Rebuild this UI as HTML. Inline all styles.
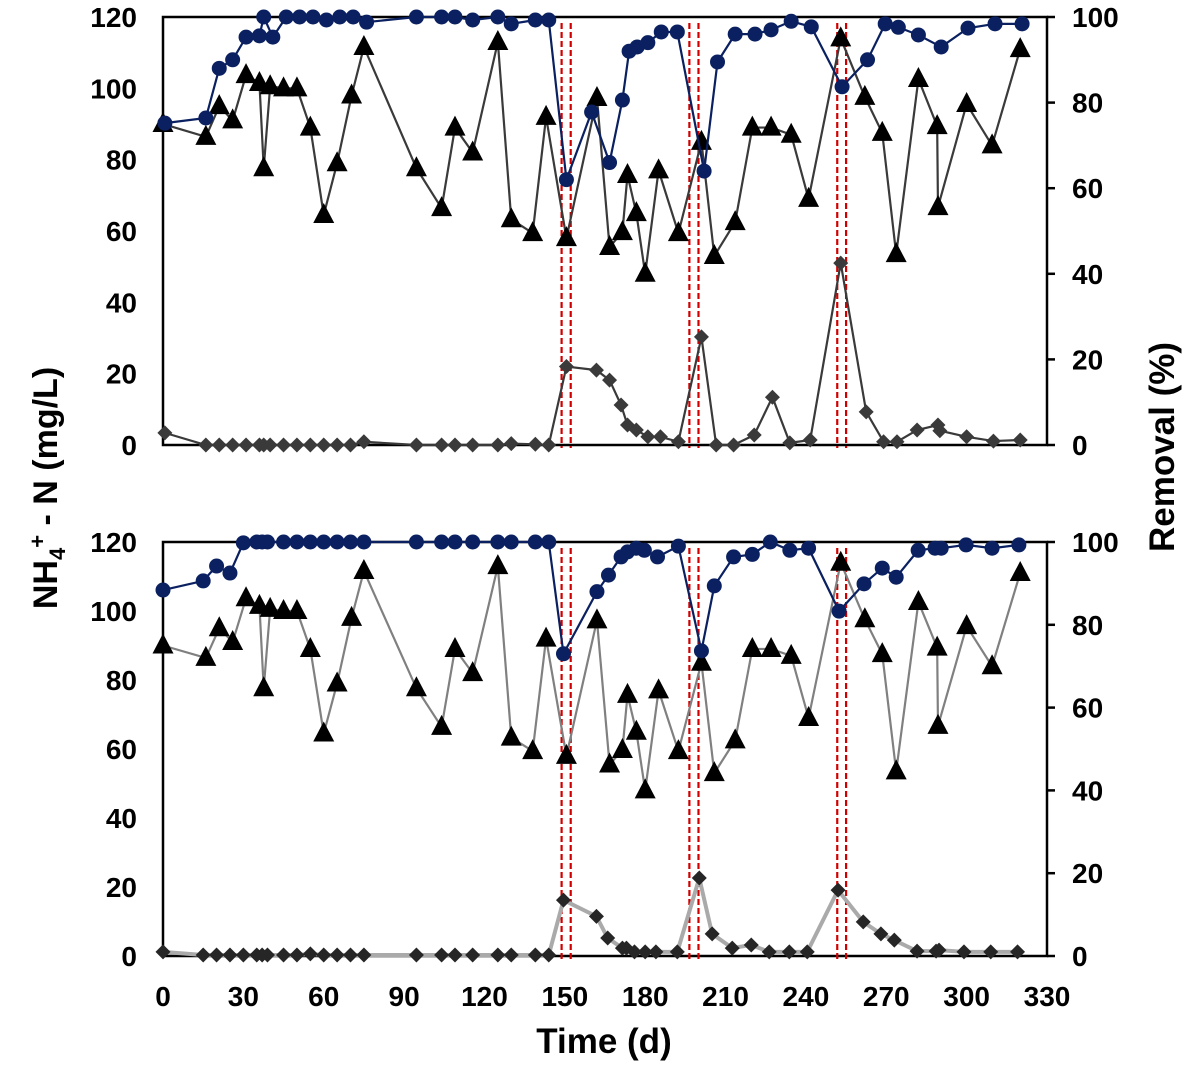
<!DOCTYPE html>
<html><head><meta charset="utf-8"><style>
body{margin:0;background:#fff}
svg text{font-family:"Liberation Sans",Arial,sans-serif;font-weight:bold;fill:#000}
</style></head><body>
<svg id="chart" width="1200" height="1077" xmlns="http://www.w3.org/2000/svg">
<g id="content"></g>
</svg>
<script>
const infDays=[0,16,21,26,31,36,37.6,40,45,50,55,60,65,70.4,75,94.6,104,109,115.6,125,130,138,143,150.6,162,166.7,171.5,173.4,176.7,180,185,192.4,201,205.8,213.6,220,227,234.5,241,253,262,268.5,273.7,282,289,289.3,300,309.5,320];
const infVals=[90,86.4,95,91,103.7,101.5,77.6,100.6,100,100,89,64.5,79,98,111.6,77.6,66.4,89,82,113,63.3,59.4,92,58,97.3,55.5,59.7,75.7,65,48,77,59.4,85,53,62.5,89,89,87,69,114,97.6,87.5,53.5,102.6,89.4,66.7,95.6,84,111];
const remTopDays=[0.7,16,21,26,31,36,37.6,41,46,51,56,61,66,71,76,94.6,104,109,115.6,125,130,139,144,150.6,160,166.7,171.5,174,177,181,186,192,202,207,213.6,221,227,234.5,242,253.5,263,269.6,274.5,282,290.5,300.5,310.6,320.7];
const remTopVals=[75.2,76.4,88,90,95.3,95.6,100,95.3,100,100,100,99.3,100,100,98.8,100,100,100,99.3,100,98.4,99.3,99.3,62,77.8,66,80.6,92,93,94,96.5,96.5,64,89.5,96,96,97,99,97.7,83.7,90,98.4,97.6,95.8,93,97.4,98.4,98.4];
const effTopDays=[0.7,16,21,26,31,36,37.6,40,45,50,55,60,65,70,75,94.6,104,109,115.6,125,130,139,144,150.6,161.8,166.7,171,173.4,176.7,181,185.7,192.4,201,206.5,213,220.7,227.5,234,241.6,253,262.5,269,274,281.5,289.3,290,300,310,320];
const effTopVals=[3.4,0,0,0,0,0,0,0,0,0,0,0,0,0,0.9,0,0,0,0,0,0.4,0.2,0,22,21,18.2,11.2,5.6,4.2,2.3,2.3,0.9,30.3,0,0,2.8,13.4,0.6,1.4,51,9.3,0.9,0.9,4.2,5.6,4,2.3,1.1,1.4];
const remBotDays=[0,15,20,25,30,35,37,39,45,50,55,60,65,70,75,94.6,104,109,115.6,125,130,139,144,149.5,162,166.3,171,173.4,176.7,179.7,184.6,192.4,201,205.8,213,220,226.7,234,241,252.4,261.7,268.5,273.7,281.9,288.2,290.5,299.8,309.5,319.5];
const remBotVals=[88.4,90.6,94.2,92.5,99.8,100,100,100,100,100,100,100,100,100,100,100,100,100,100,100,100,100,100,73,88,92,96.4,97.6,98.5,98,96.4,99,73.7,89.4,96.4,97,100,98,98.5,83.3,89.9,93.7,91.5,98,98.5,98.5,99.3,98.5,99.3];
const effBotDays=[0,15,20,25,30,35,37,39,45,50,55,60,65,70,75,94.6,104,109,115.6,125,130,139,144,149.5,161.8,166,171.5,173,176,180,184,192,200.2,205,212.5,219.6,226.3,233.8,240.5,252,261.4,268,273,281.5,288.6,289.7,299,309,319];
const effBotVals=[1.2,0.3,0.3,0.3,0.3,0.3,0.3,0.3,0.3,0.3,0.6,0.3,0.3,0.3,0.3,0.3,0.3,0.3,0.3,0.3,0.3,0.3,0.3,16.2,11.5,5.2,2.3,2.3,1.2,1.2,1.2,1.2,22.6,6.4,2.3,3.2,1.2,1.2,1.2,19.1,9.9,6.4,4.6,1.4,1.4,1.7,1.2,1.2,1.2];
const eventDays=[148.8,152.2,196.5,199.9,251.7,255];
const xTicks=[0,30,60,90,120,150,180,210,240,270,300,330];
const leftTicks=[0,20,40,60,80,100,120];
const rightTicks=[0,20,40,60,80,100];

const NS="http://www.w3.org/2000/svg";
const root=document.getElementById('content');
function mk(tag,attrs,parent){const e=document.createElementNS(NS,tag);for(const k in attrs)e.setAttribute(k,attrs[k]);(parent||root).appendChild(e);return e;}
const X0=163,X1=1047;
const xs=d=>X0+(X1-X0)*d/330;
const panels=[
 {top:17,bot:445,inf:infVals,remD:remTopDays,remV:remTopVals,effD:effTopDays,effV:effTopVals,infLine:'#3a3a3a',effLine:'#3a3a3a',effW:2.2,dia:'#3a3a3a',name:'top'},
 {top:542,bot:956,inf:infVals,remD:remBotDays,remV:remBotVals,effD:effBotDays,effV:effBotVals,infLine:'#808080',effLine:'#aaaaaa',effW:4,dia:'#262626',name:'bottom'}
];
panels.forEach(p=>{
 const yl=v=>p.bot-(p.bot-p.top)*v/120;
 const yr=v=>p.bot-(p.bot-p.top)*v/100;
 const g=mk('g',{});
 
 
 const frame=mk('rect',{x:X0,y:p.top,width:X1-X0,height:p.bot-p.top,fill:'none',stroke:'#000','stroke-width':2.5},g);
 
 
 leftTicks.forEach(t=>{
  const tx=mk('text',{x:137,y:yl(t)+10,'font-size':28,'text-anchor':'end'},g);tx.textContent=t;
  
  
 });
 rightTicks.forEach(t=>{
  mk('line',{x1:X1,x2:X1+8,y1:yr(t),y2:yr(t),stroke:'#000','stroke-width':2.5},g);
  const tx=mk('text',{x:1072,y:yr(t)+10,'font-size':28},g);tx.textContent=t;
  
  
 });
 eventDays.forEach(d=>{
  const l=mk('line',{x1:xs(d),x2:xs(d),y1:p.top+6,y2:p.bot+3,stroke:'#d00000','stroke-width':2.2,'stroke-dasharray':'6,3'},g);
  
  
 });
 const ip=mk('polyline',{points:infDays.map((d,i)=>xs(d)+','+yl(p.inf[i])).join(' '),fill:'none',stroke:p.infLine,'stroke-width':2.2},g);
 
 
 infDays.forEach((d,i)=>{const x=xs(d),y=yl(p.inf[i]);
  const t=mk('polygon',{points:`${x},${y-12} ${x-10.5},${y+8} ${x+10.5},${y+8}`,fill:'#000'},g);
  
  
 });
 const ep=mk('polyline',{points:p.effD.map((d,i)=>xs(d)+','+yl(p.effV[i])).join(' '),fill:'none',stroke:p.effLine,'stroke-width':p.effW},g);
 
 
 p.effD.forEach((d,i)=>{const x=xs(d),y=yl(p.effV[i]);
  const t=mk('polygon',{points:`${x},${y-7.5} ${x+7.5},${y} ${x},${y+7.5} ${x-7.5},${y}`,fill:p.dia},g);
  
  
 });
 const rp=mk('polyline',{points:p.remD.map((d,i)=>xs(d)+','+yr(p.remV[i])).join(' '),fill:'none',stroke:'#0a2060','stroke-width':2.2},g);
 
 
 p.remD.forEach((d,i)=>{
  const c=mk('circle',{cx:xs(d),cy:yr(p.remV[i]),r:7.5,fill:'#0a2060'},g);
  
  
 });
});
xTicks.forEach(t=>{
 const tx=mk('text',{x:xs(t),y:1006,'font-size':28,'text-anchor':'middle'});tx.textContent=t;
 
 
});
const xt=mk('text',{x:604,y:1053,'font-size':35,'text-anchor':'middle'});xt.textContent='Time (d)';


const yt=mk('text',{transform:'translate(57,488) rotate(-90)','font-size':34,'text-anchor':'middle'});


yt.innerHTML='NH<tspan font-size="22" dy="8">4</tspan><tspan font-size="22" dy="-20">+</tspan><tspan dy="12"> - N (mg/L)</tspan>';
const rt=mk('text',{transform:'translate(1174,447) rotate(-90)','font-size':35,'text-anchor':'middle'});rt.textContent='Removal (%)';


</script>
</body></html>
